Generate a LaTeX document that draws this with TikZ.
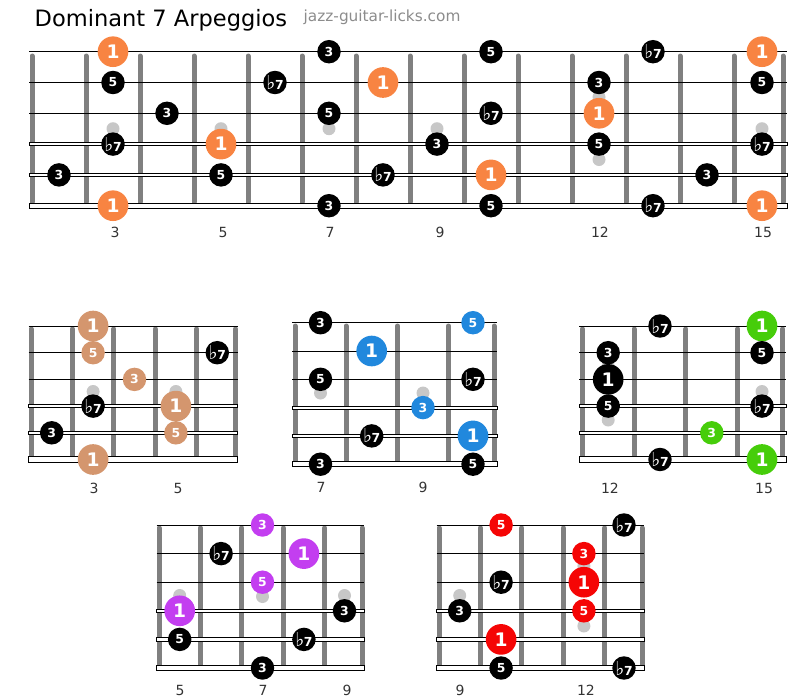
\documentclass[tikz,border=0pt]{standalone}
\usepackage{fontspec}
\setmainfont{DejaVu Sans}
\definecolor{orng}{RGB}{248,132,66}
\definecolor{tann}{RGB}{212,150,110}
\definecolor{blu}{RGB}{33,136,221}
\definecolor{grn}{RGB}{70,205,10}
\definecolor{prpl}{RGB}{195,62,240}
\definecolor{rd}{RGB}{245,5,5}
\newcommand{\bsev}{{\mdseries\scalebox{1.55}{♭}}\kern-0.3pt 7}
\tikzset{
  fretbar/.style={draw=gray, line width=3.75pt, line cap=round},
  thinstr/.style={draw=black, line width=0.75pt},
  wound/.style={draw=black, line width=0.7pt, fill=white},
  inlay/.style={circle, fill=black!22, inner sep=0pt, minimum size=9.75pt},
  deg/.style={circle, fill=#1, text=white, inner sep=0pt, minimum size=17.6pt, font=\bfseries\fontsize{9.3}{10}\selectfont},
  deg/.default=black,
  tonic/.style={circle, fill=#1, text=white, inner sep=0pt, minimum size=23pt, font=\bfseries\fontsize{14}{15}\selectfont},
  fretnum/.style={font=\fontsize{10.5}{12}\selectfont, text=black!80},
}
\begin{document}
\begin{tikzpicture}[x=0.75pt,y=-0.75pt]
  \useasboundingbox (0,0) rectangle (794,697);
  \node[anchor=base west, font=\fontsize{16.9}{18}\selectfont] (title) at (30,26) {Dominant 7 Arpeggios};
  \node[anchor=base west, font=\fontsize{11.5}{13}\selectfont, text=black!45] (site) at (299,21) {jazz-guitar-licks.com};

  % big neck
  \foreach \x in {32,86,140,194,248,302,356,410,464,518,572,626,680,734,783}
    \draw[fretbar] (\x,56) -- (\x,202);
  \foreach \y in {51.7,82.5,113.3}
    \draw[thinstr] (29,\y) -- (787,\y);
  \draw[wound] (29,142.6) rectangle (787,145.6);
  \draw[wound] (29,173) rectangle (787,176.8);
  \draw[wound] (29,203.1) rectangle (787,208.3);
  \node[inlay] (n-in3) at (113,128.7) {};
  \node[inlay] (n-in5) at (221,128.7) {};
  \node[inlay] (n-in7) at (329,128.7) {};
  \node[inlay] (n-in9) at (437,128.7) {};
  \node[inlay] (n-in12a) at (599,97) {};
  \node[inlay] (n-in12b) at (599,159.5) {};
  \node[inlay] (n-in15) at (762,128.7) {};
  \node[tonic=orng] (n-1-3) at (113,51.7) {1};
  \node[deg] (n-1-7) at (329,51.7) {3};
  \node[deg] (n-1-10) at (491,51.7) {5};
  \node[deg] (n-1-13) at (653,51.7) {\bsev};
  \node[tonic=orng] (n-1-15) at (762,51.7) {1};
  \node[deg] (n-2-3) at (113,82.5) {5};
  \node[deg] (n-2-6) at (275,82.5) {\bsev};
  \node[tonic=orng] (n-2-8) at (383,82.5) {1};
  \node[deg] (n-2-12) at (599,82.5) {3};
  \node[deg] (n-2-15) at (762,82.5) {5};
  \node[deg] (n-3-4) at (167,113.3) {3};
  \node[deg] (n-3-7) at (329,113.3) {5};
  \node[deg] (n-3-10) at (491,113.3) {\bsev};
  \node[tonic=orng] (n-3-12) at (599,113.3) {1};
  \node[deg] (n-4-3) at (113,144.1) {\bsev};
  \node[tonic=orng] (n-4-5) at (221,144.1) {1};
  \node[deg] (n-4-9) at (437,144.1) {3};
  \node[deg] (n-4-12) at (599,144.1) {5};
  \node[deg] (n-4-15) at (762,144.1) {\bsev};
  \node[deg] (n-5-2) at (59,174.9) {3};
  \node[deg] (n-5-5) at (221,174.9) {5};
  \node[deg] (n-5-8) at (383,174.9) {\bsev};
  \node[tonic=orng] (n-5-10) at (491,174.9) {1};
  \node[deg] (n-5-14) at (707,174.9) {3};
  \node[tonic=orng] (n-6-3) at (113,205.7) {1};
  \node[deg] (n-6-7) at (329,205.7) {3};
  \node[deg] (n-6-10) at (491,205.7) {5};
  \node[deg] (n-6-13) at (653,205.7) {\bsev};
  \node[tonic=orng] (n-6-15) at (762,205.7) {1};
  \node[fretnum] (n-f3) at (115,232.5) {3};
  \node[fretnum] (n-f5) at (223,232.5) {5};
  \node[fretnum] (n-f7) at (330,232.5) {7};
  \node[fretnum] (n-f9) at (440,232.5) {9};
  \node[fretnum] (n-f12) at (600,232.5) {12};
  \node[fretnum] (n-f15) at (763,232.5) {15};

  % shape 1 (tan)
  \foreach \x in {31,72.4,113.8,155.2,196.6,235.5}
    \draw[fretbar] (\x,329) -- (\x,457);
  \foreach \y in {326,352.7,379.4}
    \draw[thinstr] (28.7,\y) -- (237.7,\y);
  \draw[wound] (28.7,404.6) rectangle (237.7,407.6);
  \draw[wound] (28.7,431) rectangle (237.7,434.6);
  \draw[wound] (28.7,456.9) rectangle (237.7,462.1);
  \node[inlay] (a-in3) at (93.1,391.5) {};
  \node[inlay] (a-in5) at (175.9,391.5) {};
  \node[tonic=tann] (a-1-3) at (93.1,326) {1};
  \node[deg=tann] (a-2-3) at (93.1,352.7) {5};
  \node[deg] (a-2-6) at (217.3,352.7) {\bsev};
  \node[deg=tann] (a-3-4) at (134.5,379.4) {3};
  \node[deg] (a-4-3) at (93.1,406.1) {\bsev};
  \node[tonic=tann] (a-4-5) at (175.9,406.1) {1};
  \node[deg] (a-5-2) at (51.7,432.8) {3};
  \node[deg=tann] (a-5-5) at (175.9,432.8) {5};
  \node[tonic=tann] (a-6-3) at (93.1,459.5) {1};
  \node[fretnum] (a-f3) at (94,488) {3};
  \node[fretnum] (a-f5) at (178,488) {5};

  % shape 2 (blue)
  \foreach \x in {295,346,397.5,448.5,494}
    \draw[fretbar] (\x,326) -- (\x,461);
  \foreach \y in {322.7,351,379.3}
    \draw[thinstr] (292,\y) -- (497,\y);
  \draw[wound] (292,406.1) rectangle (497,409.1);
  \draw[wound] (292,434.1) rectangle (497,437.7);
  \draw[wound] (292,461.6) rectangle (497,466.8);
  \node[inlay] (b-in7) at (320.5,393) {};
  \node[inlay] (b-in9) at (423,393) {};
  \node[deg] (b-1-7) at (320.5,322.7) {3};
  \node[deg=blu] (b-1-10) at (473,322.7) {5};
  \node[tonic=blu] (b-2-8) at (371.7,351) {1};
  \node[deg] (b-3-7) at (320.5,379.3) {5};
  \node[deg] (b-3-10) at (473,379.3) {\bsev};
  \node[deg=blu] (b-4-9) at (423,407.6) {3};
  \node[deg] (b-5-8) at (371.7,435.9) {\bsev};
  \node[tonic=blu] (b-5-10) at (473,435.9) {1};
  \node[deg] (b-6-7) at (320.5,464.2) {3};
  \node[deg] (b-6-10) at (473,464.2) {5};
  \node[fretnum] (b-f7) at (321,487) {7};
  \node[fretnum] (b-f9) at (423,487) {9};

  % shape 3 (green)
  \foreach \x in {582.3,634.1,685.9,737.7,782.7}
    \draw[fretbar] (\x,329) -- (\x,457);
  \foreach \y in {326,352.7,379.4}
    \draw[thinstr] (579,\y) -- (786,\y);
  \draw[wound] (579,404.6) rectangle (786,407.6);
  \draw[wound] (579,431) rectangle (786,434.6);
  \draw[wound] (579,456.9) rectangle (786,462.1);
  \node[inlay] (c-in12a) at (608.2,366) {};
  \node[inlay] (c-in12b) at (608.2,420) {};
  \node[inlay] (c-in15) at (762,391.5) {};
  \node[deg] (c-1-13) at (660,326) {\bsev};
  \node[tonic=grn] (c-1-15) at (762,326) {1};
  \node[deg] (c-2-12) at (608.2,352.7) {3};
  \node[deg] (c-2-15) at (762,352.7) {5};
  \node[tonic=black] (c-3-12) at (608.2,379.4) {1};
  \node[deg] (c-4-12) at (608.2,406.1) {5};
  \node[deg] (c-4-15) at (762,406.1) {\bsev};
  \node[deg=grn] (c-5-14) at (711.8,432.8) {3};
  \node[deg] (c-6-13) at (660,459.5) {\bsev};
  \node[tonic=grn] (c-6-15) at (762,459.5) {1};
  \node[fretnum] (c-f12) at (610,488) {12};
  \node[fretnum] (c-f15) at (764,488) {15};

  % shape 4 (purple)
  \foreach \x in {159,200.4,241.8,283.2,324.6,362}
    \draw[fretbar] (\x,528) -- (\x,665);
  \foreach \y in {525,553.6,582.2}
    \draw[thinstr] (156.7,\y) -- (364,\y);
  \draw[wound] (156.7,609.3) rectangle (364,612.3);
  \draw[wound] (156.7,637.6) rectangle (364,641.2);
  \draw[wound] (156.7,665.4) rectangle (364,670.6);
  \node[inlay] (d-in5) at (179.7,595.5) {};
  \node[inlay] (d-in7) at (262.5,596.5) {};
  \node[inlay] (d-in9) at (344.5,595.5) {};
  \node[deg=prpl] (d-1-7) at (262.5,525) {3};
  \node[deg] (d-2-6) at (221.1,553.6) {\bsev};
  \node[tonic=prpl] (d-2-8) at (303.9,553.6) {1};
  \node[deg=prpl] (d-3-7) at (262.5,582.2) {5};
  \node[tonic=prpl] (d-4-5) at (179.7,610.8) {1};
  \node[deg] (d-4-9) at (344.5,610.8) {3};
  \node[deg] (d-5-5) at (179.7,639.4) {5};
  \node[deg] (d-5-8) at (303.9,639.4) {\bsev};
  \node[deg] (d-6-7) at (262.5,668) {3};
  \node[fretnum] (d-f5) at (180,690) {5};
  \node[fretnum] (d-f7) at (263,690) {7};
  \node[fretnum] (d-f9) at (347,690) {9};

  % shape 5 (red)
  \foreach \x in {439,480.4,521.8,563.2,604.6,642}
    \draw[fretbar] (\x,528) -- (\x,665);
  \foreach \y in {525,553.6,582.2}
    \draw[thinstr] (436.7,\y) -- (644,\y);
  \draw[wound] (436.7,609.3) rectangle (644,612.3);
  \draw[wound] (436.7,637.6) rectangle (644,641.2);
  \draw[wound] (436.7,665.4) rectangle (644,670.6);
  \node[inlay] (e-in9) at (459.7,595.5) {};
  \node[inlay] (e-in12a) at (583.9,566) {};
  \node[inlay] (e-in12b) at (583.9,626) {};
  \node[deg=rd] (e-1-10) at (501.1,525) {5};
  \node[deg] (e-1-13) at (624,525) {\bsev};
  \node[deg=rd] (e-2-12) at (583.9,553.6) {3};
  \node[deg] (e-3-10) at (501.1,582.2) {\bsev};
  \node[tonic=rd] (e-3-12) at (583.9,582.2) {1};
  \node[deg] (e-4-9) at (459.7,610.8) {3};
  \node[deg=rd] (e-4-12) at (583.9,610.8) {5};
  \node[tonic=rd] (e-5-10) at (501.1,639.4) {1};
  \node[deg] (e-6-10) at (501.1,668) {5};
  \node[deg] (e-6-13) at (624,668) {\bsev};
  \node[fretnum] (e-f9) at (460,690) {9};
  \node[fretnum] (e-f12) at (586,690) {12};
\end{tikzpicture}
\end{document}
